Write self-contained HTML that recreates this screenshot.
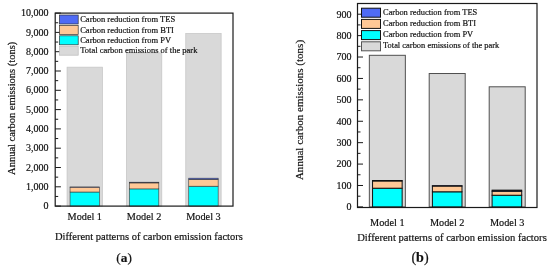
<!DOCTYPE html>
<html><head><meta charset="utf-8"><style>html,body{margin:0;padding:0;background:#fff;width:550px;height:268px;overflow:hidden}svg{display:block;filter:blur(0.3px)}text{fill:#111;stroke:#111;stroke-width:0.18px}</style></head>
<body>
<svg width="550" height="268" viewBox="0 0 550 268" font-family="'Liberation Serif', 'Times New Roman', serif" fill="#1a1a1a">
<rect width="550" height="268" fill="#fff"/>
<rect x="67.05" y="67.14" width="35.40" height="138.96" fill="#D9D9D9" stroke="#C4C4C4" stroke-width="0.7"/>
<rect x="70.05" y="192.01" width="29.40" height="14.09" fill="#00FFFF" stroke="#3a3a3a" stroke-width="0.6"/>
<rect x="70.05" y="187.19" width="29.40" height="4.83" fill="#FFC896" stroke="#3a3a3a" stroke-width="0.6"/>
<rect x="70.05" y="186.99" width="29.40" height="0.19" fill="#4F6BF5" stroke="#3a3a3a" stroke-width="0.6"/>
<rect x="126.40" y="52.86" width="35.40" height="153.24" fill="#D9D9D9" stroke="#C4C4C4" stroke-width="0.7"/>
<rect x="129.40" y="188.90" width="29.40" height="17.20" fill="#00FFFF" stroke="#3a3a3a" stroke-width="0.6"/>
<rect x="129.40" y="182.90" width="29.40" height="6.00" fill="#FFC896" stroke="#3a3a3a" stroke-width="0.6"/>
<rect x="129.40" y="182.21" width="29.40" height="0.69" fill="#4F6BF5" stroke="#3a3a3a" stroke-width="0.6"/>
<rect x="185.75" y="33.46" width="35.40" height="172.64" fill="#D9D9D9" stroke="#C4C4C4" stroke-width="0.7"/>
<rect x="188.75" y="186.20" width="29.40" height="19.90" fill="#00FFFF" stroke="#3a3a3a" stroke-width="0.6"/>
<rect x="188.75" y="179.35" width="29.40" height="6.85" fill="#FFC896" stroke="#3a3a3a" stroke-width="0.6"/>
<rect x="188.75" y="178.19" width="29.40" height="1.16" fill="#4F6BF5" stroke="#3a3a3a" stroke-width="0.6"/>
<rect x="55.2" y="13.1" width="177.8" height="193.0" fill="none" stroke="#1a1a1a" stroke-width="1.2"/>
<line x1="55.2" y1="206.10" x2="60.900000000000006" y2="206.10" stroke="#1a1a1a" stroke-width="1.0"/>
<text x="48.4" y="209.20" text-anchor="end" font-size="10">0</text>
<line x1="55.2" y1="196.45" x2="58.2" y2="196.45" stroke="#1a1a1a" stroke-width="1.0"/>
<line x1="55.2" y1="186.80" x2="60.900000000000006" y2="186.80" stroke="#1a1a1a" stroke-width="1.0"/>
<text x="48.4" y="189.90" text-anchor="end" font-size="10">1,000</text>
<line x1="55.2" y1="177.15" x2="58.2" y2="177.15" stroke="#1a1a1a" stroke-width="1.0"/>
<line x1="55.2" y1="167.50" x2="60.900000000000006" y2="167.50" stroke="#1a1a1a" stroke-width="1.0"/>
<text x="48.4" y="170.60" text-anchor="end" font-size="10">2,000</text>
<line x1="55.2" y1="157.85" x2="58.2" y2="157.85" stroke="#1a1a1a" stroke-width="1.0"/>
<line x1="55.2" y1="148.20" x2="60.900000000000006" y2="148.20" stroke="#1a1a1a" stroke-width="1.0"/>
<text x="48.4" y="151.30" text-anchor="end" font-size="10">3,000</text>
<line x1="55.2" y1="138.55" x2="58.2" y2="138.55" stroke="#1a1a1a" stroke-width="1.0"/>
<line x1="55.2" y1="128.90" x2="60.900000000000006" y2="128.90" stroke="#1a1a1a" stroke-width="1.0"/>
<text x="48.4" y="132.00" text-anchor="end" font-size="10">4,000</text>
<line x1="55.2" y1="119.25" x2="58.2" y2="119.25" stroke="#1a1a1a" stroke-width="1.0"/>
<line x1="55.2" y1="109.60" x2="60.900000000000006" y2="109.60" stroke="#1a1a1a" stroke-width="1.0"/>
<text x="48.4" y="112.70" text-anchor="end" font-size="10">5,000</text>
<line x1="55.2" y1="99.95" x2="58.2" y2="99.95" stroke="#1a1a1a" stroke-width="1.0"/>
<line x1="55.2" y1="90.30" x2="60.900000000000006" y2="90.30" stroke="#1a1a1a" stroke-width="1.0"/>
<text x="48.4" y="93.40" text-anchor="end" font-size="10">6,000</text>
<line x1="55.2" y1="80.65" x2="58.2" y2="80.65" stroke="#1a1a1a" stroke-width="1.0"/>
<line x1="55.2" y1="71.00" x2="60.900000000000006" y2="71.00" stroke="#1a1a1a" stroke-width="1.0"/>
<text x="48.4" y="74.10" text-anchor="end" font-size="10">7,000</text>
<line x1="55.2" y1="61.35" x2="58.2" y2="61.35" stroke="#1a1a1a" stroke-width="1.0"/>
<line x1="55.2" y1="51.70" x2="60.900000000000006" y2="51.70" stroke="#1a1a1a" stroke-width="1.0"/>
<text x="48.4" y="54.80" text-anchor="end" font-size="10">8,000</text>
<line x1="55.2" y1="42.05" x2="58.2" y2="42.05" stroke="#1a1a1a" stroke-width="1.0"/>
<line x1="55.2" y1="32.40" x2="60.900000000000006" y2="32.40" stroke="#1a1a1a" stroke-width="1.0"/>
<text x="48.4" y="35.50" text-anchor="end" font-size="10">9,000</text>
<line x1="55.2" y1="22.75" x2="58.2" y2="22.75" stroke="#1a1a1a" stroke-width="1.0"/>
<line x1="55.2" y1="13.10" x2="60.900000000000006" y2="13.10" stroke="#1a1a1a" stroke-width="1.0"/>
<text x="48.4" y="16.20" text-anchor="end" font-size="10">10,000</text>
<rect x="59.4" y="15.00" width="18.8" height="9.0" fill="#4F6BF5" stroke="#333" stroke-width="0.7"/>
<text x="80.2" y="22.20" font-size="8.5">Carbon reduction from TES</text>
<rect x="59.4" y="25.40" width="18.8" height="9.0" fill="#FFC896" stroke="#333" stroke-width="0.7"/>
<text x="80.2" y="32.60" font-size="8.5">Carbon reduction from BTI</text>
<rect x="59.4" y="35.80" width="18.8" height="9.0" fill="#00FFFF" stroke="#333" stroke-width="0.7"/>
<text x="80.2" y="43.00" font-size="8.5">Carbon reduction from PV</text>
<rect x="59.4" y="46.20" width="18.8" height="9.0" fill="#D9D9D9" stroke="#bbb" stroke-width="0.7"/>
<text x="80.2" y="53.40" font-size="8.5">Total carbon emissions of the park</text>
<text x="84.75" y="220.3" text-anchor="middle" font-size="10.25">Model 1</text>
<text x="144.10" y="220.3" text-anchor="middle" font-size="10.25">Model 2</text>
<text x="203.45" y="220.3" text-anchor="middle" font-size="10.25">Model 3</text>
<text x="148.9" y="239.6" text-anchor="middle" font-size="10.5">Different patterns of carbon emission factors</text>
<text transform="translate(14.6,108.3) rotate(-90)" text-anchor="middle" font-size="10.5">Annual carbon emissions (tons)</text>
<text x="124.1" y="261.6" text-anchor="middle" font-size="13.3" ><tspan>(</tspan><tspan font-weight="bold">a</tspan><tspan>)</tspan></text>
<rect x="369.35" y="55.31" width="36.00" height="151.59" fill="#D9D9D9" stroke="#505050" stroke-width="1.0"/>
<rect x="372.55" y="188.21" width="29.60" height="18.69" fill="#00FFFF" stroke="#111" stroke-width="1.0"/>
<rect x="372.55" y="180.93" width="29.60" height="7.28" fill="#FFC896" stroke="#111" stroke-width="1.0"/>
<rect x="372.55" y="180.50" width="29.60" height="0.43" fill="#4F6BF5" stroke="#111" stroke-width="1.0"/>
<rect x="429.20" y="73.51" width="36.00" height="133.39" fill="#D9D9D9" stroke="#505050" stroke-width="1.0"/>
<rect x="432.40" y="191.81" width="29.60" height="15.09" fill="#00FFFF" stroke="#111" stroke-width="1.0"/>
<rect x="432.40" y="186.02" width="29.60" height="5.78" fill="#FFC896" stroke="#111" stroke-width="1.0"/>
<rect x="432.40" y="185.70" width="29.60" height="0.32" fill="#4F6BF5" stroke="#111" stroke-width="1.0"/>
<rect x="489.20" y="86.79" width="36.00" height="120.11" fill="#D9D9D9" stroke="#505050" stroke-width="1.0"/>
<rect x="492.10" y="195.23" width="29.60" height="11.67" fill="#00FFFF" stroke="#111" stroke-width="1.0"/>
<rect x="492.10" y="191.21" width="29.60" height="4.03" fill="#FFC896" stroke="#111" stroke-width="1.0"/>
<rect x="492.10" y="190.14" width="29.60" height="1.07" fill="#4F6BF5" stroke="#111" stroke-width="1.0"/>
<rect x="357.5" y="3.5" width="179.5" height="204.0" fill="none" stroke="#1a1a1a" stroke-width="1.2"/>
<line x1="357.5" y1="206.90" x2="363.0" y2="206.90" stroke="#1a1a1a" stroke-width="1.0"/>
<text x="351.4" y="210.30" text-anchor="end" font-size="10">0</text>
<line x1="357.5" y1="196.19" x2="360.5" y2="196.19" stroke="#1a1a1a" stroke-width="1.0"/>
<line x1="357.5" y1="185.49" x2="363.0" y2="185.49" stroke="#1a1a1a" stroke-width="1.0"/>
<text x="351.4" y="188.89" text-anchor="end" font-size="10">100</text>
<line x1="357.5" y1="174.78" x2="360.5" y2="174.78" stroke="#1a1a1a" stroke-width="1.0"/>
<line x1="357.5" y1="164.08" x2="363.0" y2="164.08" stroke="#1a1a1a" stroke-width="1.0"/>
<text x="351.4" y="167.48" text-anchor="end" font-size="10">200</text>
<line x1="357.5" y1="153.37" x2="360.5" y2="153.37" stroke="#1a1a1a" stroke-width="1.0"/>
<line x1="357.5" y1="142.67" x2="363.0" y2="142.67" stroke="#1a1a1a" stroke-width="1.0"/>
<text x="351.4" y="146.07" text-anchor="end" font-size="10">300</text>
<line x1="357.5" y1="131.96" x2="360.5" y2="131.96" stroke="#1a1a1a" stroke-width="1.0"/>
<line x1="357.5" y1="121.26" x2="363.0" y2="121.26" stroke="#1a1a1a" stroke-width="1.0"/>
<text x="351.4" y="124.66" text-anchor="end" font-size="10">400</text>
<line x1="357.5" y1="110.55" x2="360.5" y2="110.55" stroke="#1a1a1a" stroke-width="1.0"/>
<line x1="357.5" y1="99.85" x2="363.0" y2="99.85" stroke="#1a1a1a" stroke-width="1.0"/>
<text x="351.4" y="103.25" text-anchor="end" font-size="10">500</text>
<line x1="357.5" y1="89.14" x2="360.5" y2="89.14" stroke="#1a1a1a" stroke-width="1.0"/>
<line x1="357.5" y1="78.44" x2="363.0" y2="78.44" stroke="#1a1a1a" stroke-width="1.0"/>
<text x="351.4" y="81.84" text-anchor="end" font-size="10">600</text>
<line x1="357.5" y1="67.73" x2="360.5" y2="67.73" stroke="#1a1a1a" stroke-width="1.0"/>
<line x1="357.5" y1="57.03" x2="363.0" y2="57.03" stroke="#1a1a1a" stroke-width="1.0"/>
<text x="351.4" y="60.43" text-anchor="end" font-size="10">700</text>
<line x1="357.5" y1="46.32" x2="360.5" y2="46.32" stroke="#1a1a1a" stroke-width="1.0"/>
<line x1="357.5" y1="35.62" x2="363.0" y2="35.62" stroke="#1a1a1a" stroke-width="1.0"/>
<text x="351.4" y="39.02" text-anchor="end" font-size="10">800</text>
<line x1="357.5" y1="24.91" x2="360.5" y2="24.91" stroke="#1a1a1a" stroke-width="1.0"/>
<line x1="357.5" y1="14.21" x2="363.0" y2="14.21" stroke="#1a1a1a" stroke-width="1.0"/>
<text x="351.4" y="17.61" text-anchor="end" font-size="10">900</text>
<rect x="361.5" y="8.20" width="19" height="9.0" fill="#4F6BF5" stroke="#111" stroke-width="1.0"/>
<text x="383.0" y="15.40" font-size="8.45">Carbon reduction from TES</text>
<rect x="361.5" y="19.40" width="19" height="9.0" fill="#FFC896" stroke="#111" stroke-width="1.0"/>
<text x="383.0" y="26.30" font-size="8.45">Carbon reduction from BTI</text>
<rect x="361.5" y="30.60" width="19" height="9.0" fill="#00FFFF" stroke="#111" stroke-width="1.0"/>
<text x="383.0" y="37.20" font-size="8.45">Carbon reduction from PV</text>
<rect x="361.5" y="41.80" width="19" height="9.0" fill="#D9D9D9" stroke="#555" stroke-width="1.0"/>
<text x="383.0" y="48.40" font-size="8.45">Total carbon emissions of the park</text>
<text x="387.35" y="225.6" text-anchor="middle" font-size="10.25">Model 1</text>
<text x="447.20" y="225.6" text-anchor="middle" font-size="10.25">Model 2</text>
<text x="507.20" y="225.6" text-anchor="middle" font-size="10.25">Model 3</text>
<text x="452.0" y="241.0" text-anchor="middle" font-size="10.6">Different patterns of carbon emission factors</text>
<text transform="translate(303.3,110.0) rotate(-90)" text-anchor="middle" font-size="11.05">Annual carbon emissions (tons)</text>
<text x="420.0" y="262.4" text-anchor="middle" font-size="14.1" ><tspan>(</tspan><tspan font-weight="bold">b</tspan><tspan>)</tspan></text>
</svg>
</body></html>
